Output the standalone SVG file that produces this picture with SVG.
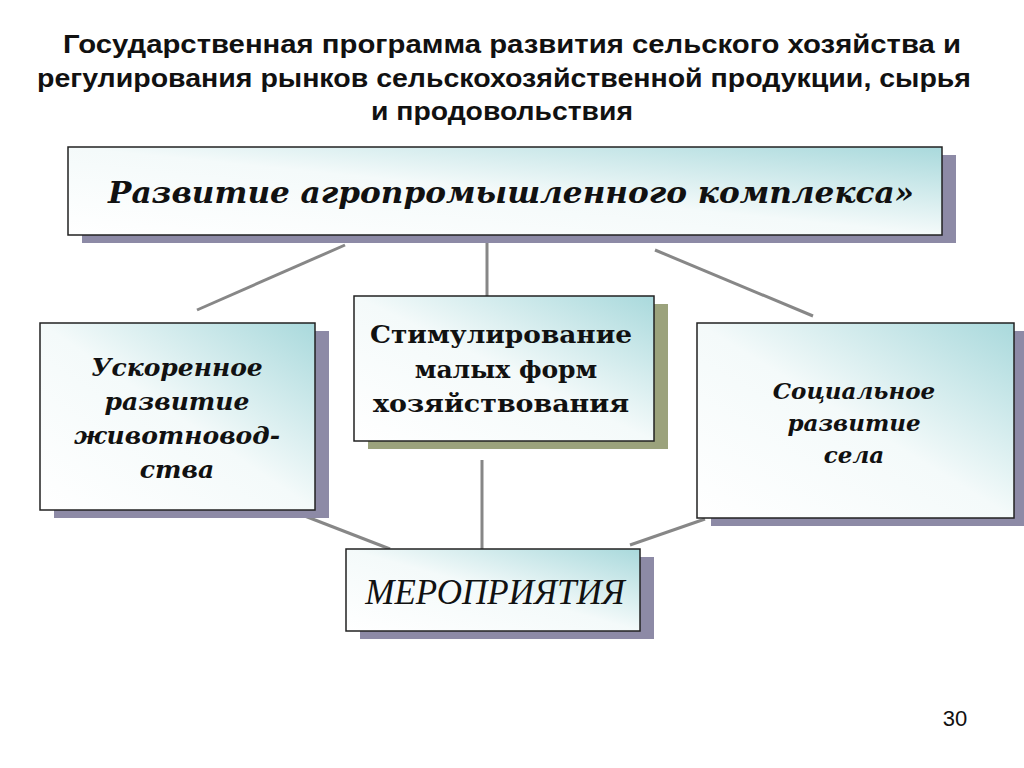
<svg xmlns="http://www.w3.org/2000/svg" width="1024" height="768" viewBox="0 0 1024 768">
<defs>
<linearGradient id="g" x1="0" y1="1" x2="1" y2="0">
<stop offset="0" stop-color="#ffffff"/><stop offset="0.5" stop-color="#f4fafa"/><stop offset="1" stop-color="#a9d9dc"/>
</linearGradient>
</defs>
<style>
.box{fill:url(#g);stroke:#222;stroke-width:1.5}
.sh{fill:#8d8aa6}
.sho{fill:#9ba27c}
.c{stroke:#878787;stroke-width:3;fill:none}
.t{font-family:"Liberation Sans",Arial,sans-serif;font-weight:bold;font-size:25px;fill:#111;text-anchor:middle}
.si{font-family:"DejaVu Serif","Liberation Serif",serif;font-style:italic;font-weight:bold;fill:#111;text-anchor:middle}
.sb{font-family:"DejaVu Serif","Liberation Serif",serif;font-weight:bold;fill:#111;text-anchor:middle}
</style>
<rect width="1024" height="768" fill="#fff"/>
<g class="t">
<text x="512" y="53" textLength="898" lengthAdjust="spacingAndGlyphs">Государственная программа развития сельского хозяйства и</text>
<text x="504" y="87" textLength="934" lengthAdjust="spacingAndGlyphs">регулирования рынков сельскохозяйственной продукции, сырья</text>
<text x="502" y="120" textLength="262" lengthAdjust="spacingAndGlyphs">и продовольствия</text>
</g>
<g id="connectors">
<line class="c" x1="345" y1="245" x2="197" y2="310"/>
<line class="c" x1="487" y1="237" x2="487" y2="296"/>
<line class="c" x1="655" y1="250" x2="813" y2="316"/>
<line class="c" x1="482" y1="460" x2="482" y2="549"/>
<line class="c" x1="297" y1="513" x2="390" y2="549"/>
<line class="c" x1="630" y1="545" x2="705" y2="519"/>
</g>
<g id="top">
<rect class="sh" x="82" y="155" width="874" height="88"/>
<rect class="box" x="68" y="147" width="874" height="88"/>
<text class="si" x="511" y="203" font-size="30" textLength="806" lengthAdjust="spacingAndGlyphs">Развитие агропромышленного комплекса»</text>
</g>
<g id="left">
<rect class="sh" x="54" y="331" width="275" height="187"/>
<rect class="box" x="40" y="323" width="275" height="187"/>
<g class="si" font-size="25">
<text x="177" y="376">Ускоренное</text>
<text x="177" y="410">развитие</text>
<text x="177" y="444">животновод-</text>
<text x="177" y="478">ства</text>
</g>
</g>
<g id="middle">
<rect class="sho" x="368" y="304" width="300" height="145"/>
<rect class="box" x="354" y="296" width="300" height="145"/>
<g class="sb" font-size="25">
<text x="501" y="343" textLength="262" lengthAdjust="spacingAndGlyphs">Стимулирование</text>
<text x="506" y="378">малых форм</text>
<text x="501" y="412" textLength="256" lengthAdjust="spacingAndGlyphs">хозяйствования</text>
</g>
</g>
<g id="right">
<rect class="sh" x="711" y="331" width="317" height="195"/>
<rect class="box" x="697" y="323" width="317" height="195"/>
<g class="si" font-size="23">
<text x="854" y="399">Социальное</text>
<text x="854" y="431">развитие</text>
<text x="854" y="463">села</text>
</g>
</g>
<g id="bottom">
<rect class="sh" x="360" y="557" width="294" height="82"/>
<rect class="box" x="346" y="549" width="294" height="82"/>
<text x="495" y="604" font-family="Liberation Serif,serif" font-style="italic" font-size="35" fill="#111" text-anchor="middle">МЕРОПРИЯТИЯ</text>
</g>
<text x="955" y="726" font-family="Liberation Sans,sans-serif" font-size="22" fill="#111" text-anchor="middle">30</text>
</svg>
